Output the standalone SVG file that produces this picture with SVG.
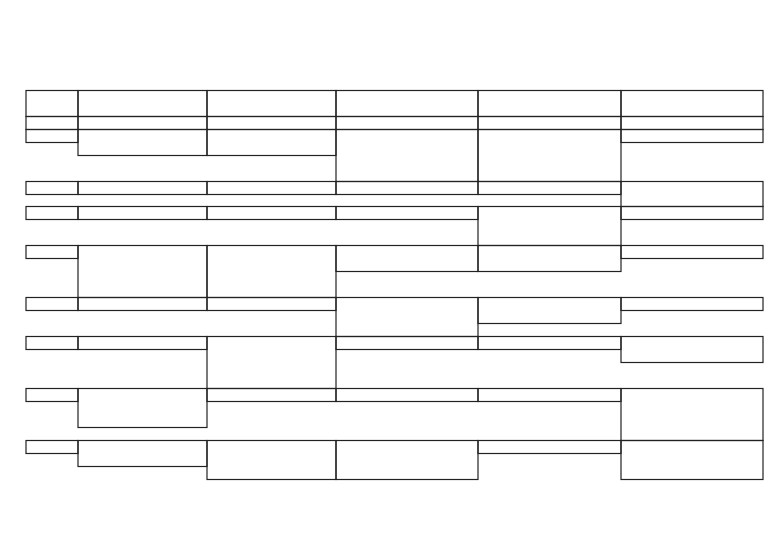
<svg xmlns="http://www.w3.org/2000/svg" width="768" height="543" viewBox="0 0 768 543">
<style>rect{fill:none;stroke:#222;stroke-width:1.2}</style>
<rect x="0" y="0" width="768" height="543" style="fill:#fff;stroke:none"/>
<g id="r1"><rect x="26" y="90.5" width="52" height="26"/><rect x="78" y="90.5" width="129" height="26"/><rect x="207" y="90.5" width="129" height="26"/><rect x="336" y="90.5" width="142" height="26"/><rect x="478" y="90.5" width="143" height="26"/><rect x="621" y="90.5" width="142" height="26"/></g>
<g id="r2"><rect x="26" y="116.5" width="52" height="13"/><rect x="78" y="116.5" width="129" height="13"/><rect x="207" y="116.5" width="129" height="13"/><rect x="336" y="116.5" width="142" height="13"/><rect x="478" y="116.5" width="143" height="13"/><rect x="621" y="116.5" width="142" height="13"/></g>
<g id="r3"><rect x="26" y="129.5" width="52" height="13"/><rect x="78" y="129.5" width="129" height="26"/><rect x="207" y="129.5" width="129" height="26"/><rect x="336" y="129.5" width="142" height="52"/><rect x="478" y="129.5" width="143" height="52"/><rect x="621" y="129.5" width="142" height="13"/></g>
<g id="r4"><rect x="26" y="181.5" width="52" height="13"/><rect x="78" y="181.5" width="129" height="13"/><rect x="207" y="181.5" width="129" height="13"/><rect x="336" y="181.5" width="142" height="13"/><rect x="478" y="181.5" width="143" height="13"/><rect x="621" y="181.5" width="142" height="25"/></g>
<g id="r5"><rect x="26" y="206.5" width="52" height="13"/><rect x="78" y="206.5" width="129" height="13"/><rect x="207" y="206.5" width="129" height="13"/><rect x="336" y="206.5" width="142" height="13"/><rect x="478" y="206.5" width="143" height="39"/><rect x="621" y="206.5" width="142" height="13"/></g>
<g id="r6"><rect x="26" y="245.5" width="52" height="13"/><rect x="78" y="245.5" width="129" height="52"/><rect x="207" y="245.5" width="129" height="52"/><rect x="336" y="245.5" width="142" height="26"/><rect x="478" y="245.5" width="143" height="26"/><rect x="621" y="245.5" width="142" height="13"/></g>
<g id="r7"><rect x="26" y="297.5" width="52" height="13"/><rect x="78" y="297.5" width="129" height="13"/><rect x="207" y="297.5" width="129" height="13"/><rect x="336" y="297.5" width="142" height="39"/><rect x="478" y="297.5" width="143" height="26"/><rect x="621" y="297.5" width="142" height="13"/></g>
<g id="r8"><rect x="26" y="336.5" width="52" height="13"/><rect x="78" y="336.5" width="129" height="13"/><rect x="207" y="336.5" width="129" height="52"/><rect x="336" y="336.5" width="142" height="13"/><rect x="478" y="336.5" width="143" height="13"/><rect x="621" y="336.5" width="142" height="26"/></g>
<g id="r9"><rect x="26" y="388.5" width="52" height="13"/><rect x="78" y="388.5" width="129" height="39"/><rect x="207" y="388.5" width="129" height="13"/><rect x="336" y="388.5" width="142" height="13"/><rect x="478" y="388.5" width="143" height="13"/><rect x="621" y="388.5" width="142" height="52"/></g>
<g id="r10"><rect x="26" y="440.5" width="52" height="13"/><rect x="78" y="440.5" width="129" height="26"/><rect x="207" y="440.5" width="129" height="39"/><rect x="336" y="440.5" width="142" height="39"/><rect x="478" y="440.5" width="143" height="13"/><rect x="621" y="440.5" width="142" height="39"/></g>
<g id="connectors"></g>
</svg>
